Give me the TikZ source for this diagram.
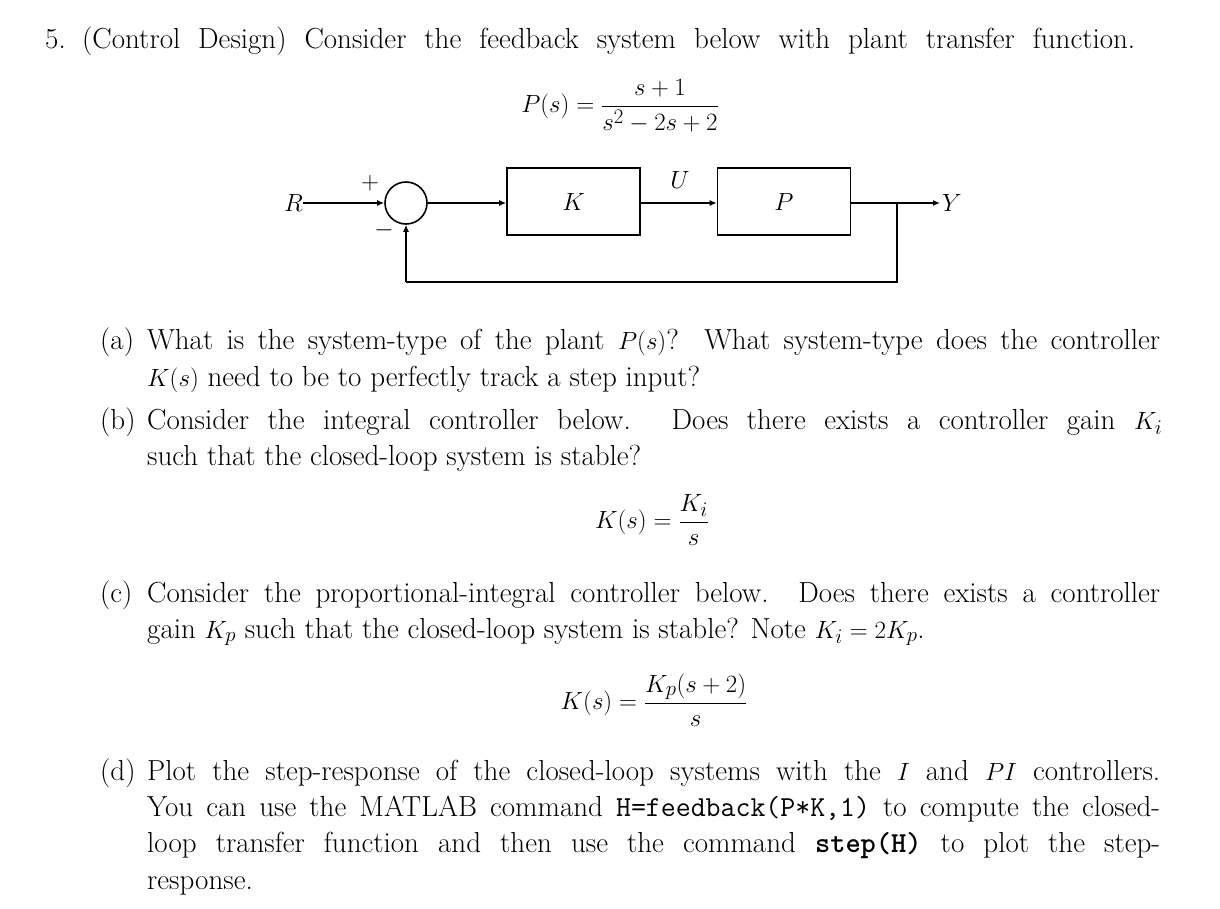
\documentclass[tikz,border=0pt]{standalone}
\usepackage{amsmath}
\usetikzlibrary{arrows.meta}
\begin{document}
\begin{tikzpicture}[x=1pt,y=-1pt,
  txt/.style={anchor=base west,inner sep=0pt,font=\fontsize{29}{36}\selectfont},
  eq/.style={inner sep=0pt,font=\fontsize{29}{36}\selectfont},
  blk/.style={draw,line width=1.6pt,minimum width=133pt,minimum height=67pt,font=\fontsize{29}{36}\selectfont},
  wire/.style={line width=1.6pt},
  arr/.style={line width=1.6pt,-{Latex[length=7pt,width=6pt]}}]
\useasboundingbox (0,0) rectangle (1220,908);
\newcommand\myln[4]{\node[txt] at (#1,#3) {\hbox to #2pt{#4}};}
\newcommand\mylnn[3]{\node[txt] at (#1,#2) {#3};}
\mylnn{45}{48}{5.}
\myln{82}{1053}{48}{(Control Design) Consider the feedback system below with plant transfer function.}
\node[eq] (p) at (620,106) {$P(s)=\dfrac{s+1}{s^2-2s+2}$};
% diagram
\node[eq,anchor=east] (r) at (303,203) {$R$};
\node[draw,line width=1.6pt,circle,minimum size=42pt,inner sep=0pt] (c) at (406,203) {};
\node[blk] (k) at (573.5,201.5) {$K$};
\node[blk] (pp) at (784,201.5) {$P$};
\coordinate (b) at (897,203);
\coordinate (yy) at (940,203);
\node[eq,anchor=west] (y) at (942,203) {$Y$};
\coordinate (f1) at (897,282);
\coordinate (f2) at (406,282);
\draw[arr] (r.east) -- (c.west);
\draw[arr] (c.east) -- (k.west |- c.east);
\draw[arr] (k.east |- c.east) -- (pp.west |- c.east);
\draw[arr] (pp.east |- c.east) -- (yy);
\draw[wire] (b) -- (f1) -- (f2);
\draw[arr] (f2) -- (c.south);
\node[eq] (plus) at (370,183) {$+$};
\node[eq] (minus) at (384,230) {$-$};
\node[eq] (u) at (680,180) {$U$};
% (a)
\mylnn{100}{349}{(a)}
\myln{147}{1013}{349}{What is the system-type of the plant $P(s)$? What system-type does the controller}
\mylnn{147}{386}{$K(s)$ need to be to perfectly track a step input?}
% (b)
\mylnn{100}{429}{(b)}
\myln{147}{1015}{429}{Consider the integral controller below. Does there exists a controller gain $K_i$}
\mylnn{147}{465}{such that the closed-loop system is stable?}
\node[eq] (ki) at (652,520) {$K(s)=\dfrac{K_i}{s}$};
% (c)
\mylnn{100}{602}{(c)}
\myln{147}{1013}{602}{Consider the proportional-integral controller below. Does there exists a controller}
\mylnn{147}{638}{gain $K_p$ such that the closed-loop system is stable? Note $K_i=2K_p$.}
\node[eq] (kp) at (654,700) {$K(s)=\dfrac{K_p(s+2)}{s}$};
% (d)
\mylnn{100}{780}{(d)}
\myln{147}{1013}{780}{Plot the step-response of the closed-loop systems with the $I$ and $PI$ controllers.}
\myln{147}{1013}{816}{You can use the MATLAB command \texttt{H=feedback(P*K,1)} to compute the closed-}
\myln{147}{1013}{852}{loop transfer function and then use the command {\ttfamily\bfseries step(H)} to plot the step-}
\mylnn{147}{889}{response.}
\end{tikzpicture}
\end{document}
